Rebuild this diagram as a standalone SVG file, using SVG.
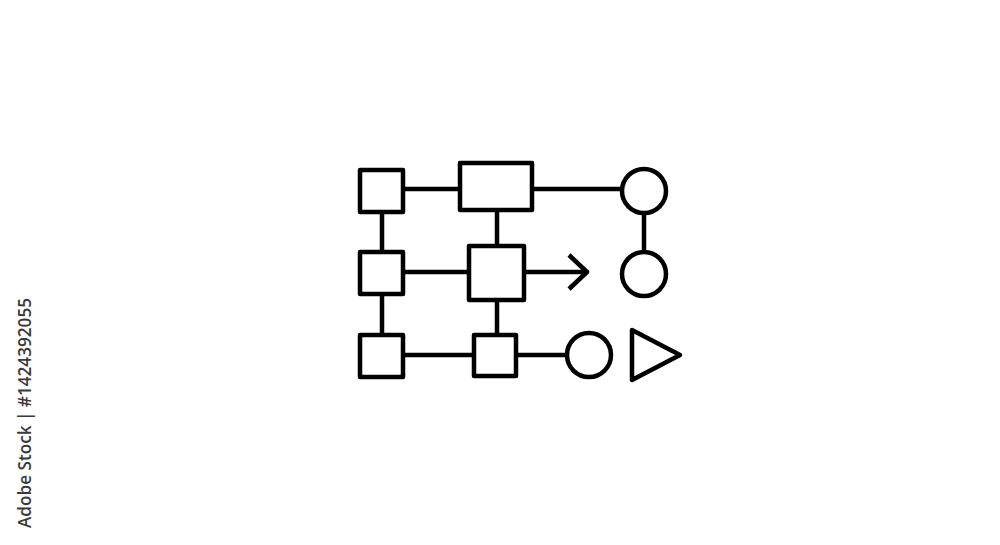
<svg xmlns="http://www.w3.org/2000/svg" width="1000" height="545" viewBox="0 0 1000 545">
<style>
.s{fill:none;stroke:#000;stroke-width:4.5;stroke-linecap:butt;stroke-linejoin:round}
.wm{font-family:"Open Sans","Liberation Sans",sans-serif;font-size:18px;font-weight:600;fill:#3a3a3a}
</style>
<rect width="1000" height="545" fill="#fff"/>
<g id="connectors" class="s">
<line x1="403" y1="189" x2="460" y2="189"/>
<line x1="532" y1="189" x2="622" y2="189"/>
<line x1="382" y1="212" x2="382" y2="252"/>
<line x1="382" y1="294" x2="382" y2="335"/>
<line x1="497" y1="210" x2="497" y2="246"/>
<line x1="497" y1="300" x2="497" y2="335"/>
<line x1="403" y1="272" x2="469" y2="272"/>
<line x1="524" y1="272" x2="586" y2="272"/>
<polyline points="569,255 587,272 569,289"/>
<line x1="644" y1="213" x2="644" y2="252"/>
<line x1="403" y1="355" x2="474" y2="355"/>
<line x1="516" y1="355" x2="567" y2="355"/>
</g>
<g id="n1"><rect class="s" x="360" y="170" width="43" height="42"/></g>
<g id="n2"><rect class="s" x="460" y="163" width="72" height="47"/></g>
<g id="n3"><circle class="s" cx="644" cy="191" r="22"/></g>
<g id="n4"><rect class="s" x="360" y="252" width="43" height="42"/></g>
<g id="n5"><rect class="s" x="469" y="246" width="55" height="54"/></g>
<g id="n6"><circle class="s" cx="644" cy="274" r="22"/></g>
<g id="n7"><rect class="s" x="360" y="335" width="43" height="42"/></g>
<g id="n8"><rect class="s" x="474" y="335" width="42" height="41"/></g>
<g id="n9"><circle class="s" cx="589" cy="355" r="22"/></g>
<g id="n10"><polygon class="s" points="632,330 680,355 632,380"/></g>
<text class="wm" x="31" y="528" transform="rotate(-90 31 528)" textLength="230" lengthAdjust="spacingAndGlyphs">Adobe Stock | #1424392055</text>
</svg>
